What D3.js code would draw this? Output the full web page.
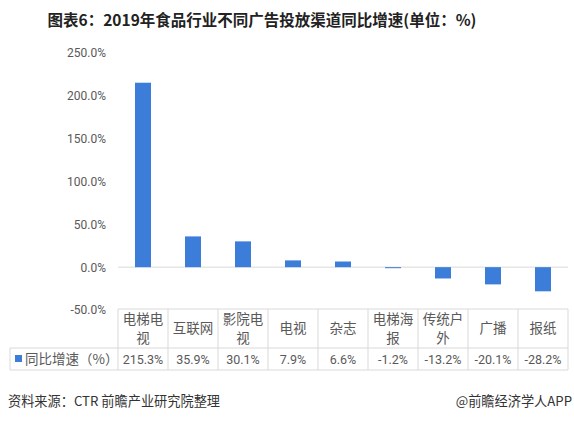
<!DOCTYPE html>
<html>
<head>
<meta charset="utf-8">
<script src="https://cdn.jsdelivr.net/npm/d3@7"></script>
<style>
  body { margin: 0; background: #fff; }
  svg { display: block; font-family: "Noto Sans CJK SC", "Microsoft YaHei", sans-serif; }
</style>
</head>
<body>
<svg id="chart"></svg>
<script>
const categories = ["电梯电视", "互联网", "影院电视", "电视", "杂志", "电梯海报", "传统户外", "广播", "报纸"];
const categoryLines = [["电梯电", "视"], ["互联网"], ["影院电", "视"], ["电视"], ["杂志"], ["电梯海", "报"], ["传统户", "外"], ["广播"], ["报纸"]];
const growth = [215.3, 35.9, 30.1, 7.9, 6.6, -1.2, -13.2, -20.1, -28.2];
const yTicks = [-50, 0, 50, 100, 150, 200, 250];
const seriesName = "同比增速（%）";

const svgWidth = 574, svgHeight = 422;
const plotLeft = 118, plotRight = 568;
const barColor = "#3b7dd8";
const textColor = "#595959";
const gridColor = "#d9d9d9";

// plain hyphen for negatives, like the source
const pct = d => d.toFixed(1) + "%";

const svg = d3.select("#chart")
  .attr("width", svgWidth)
  .attr("height", svgHeight);

// title
svg.append("text")
  .attr("x", 262)
  .attr("y", 26)
  .attr("text-anchor", "middle")
  .attr("font-size", 15.5)
  .attr("font-weight", "bold")
  .attr("fill", "#222")
  .text("图表6：2019年食品行业不同广告投放渠道同比增速(单位：%)");

// scales
const x = d3.scaleBand()
  .domain(categories)
  .range([plotLeft, plotRight]);

const y = d3.scaleLinear()
  .domain([-50, 250])
  .range([310, 53]);

// y axis labels, no lines
svg.append("g")
  .attr("transform", "translate(106,0)")
  .call(d3.axisLeft(y).tickValues(yTicks).tickSize(0).tickPadding(0).tickFormat(pct))
  .call(g => g.select(".domain").remove())
  .call(g => g.selectAll("text")
    .attr("fill", textColor)
    .attr("font-size", 12)
    .attr("font-family", "Roboto, 'Noto Sans', sans-serif"));

// zero line
svg.append("line")
  .attr("x1", plotLeft)
  .attr("x2", plotRight)
  .attr("y1", y(0))
  .attr("y2", y(0))
  .attr("stroke", gridColor)
  .attr("stroke-width", 1);

// bars
const barW = x.bandwidth() * 0.32;
svg.append("g")
  .selectAll("rect")
  .data(growth)
  .join("rect")
  .attr("x", (d, i) => x(categories[i]) + (x.bandwidth() - barW) / 2)
  .attr("y", d => y(Math.max(0, d)))
  .attr("width", barW)
  .attr("height", d => Math.abs(y(d) - y(0)))
  .attr("fill", barColor);

// data table
const headTop = 309, headBottom = 348, rowBottom = 370, tableLeft = 10;
const table = svg.append("g").attr("stroke", gridColor).attr("fill", "none");

table.append("line").attr("x1", plotLeft).attr("x2", plotRight).attr("y1", headTop).attr("y2", headTop);
table.append("line").attr("x1", tableLeft).attr("x2", plotRight).attr("y1", headBottom).attr("y2", headBottom);
table.append("line").attr("x1", tableLeft).attr("x2", plotRight).attr("y1", rowBottom).attr("y2", rowBottom);
table.append("line").attr("x1", tableLeft).attr("x2", tableLeft).attr("y1", headBottom).attr("y2", rowBottom);
table.selectAll(".vline")
  .data(categories.concat(["end"]))
  .join("line")
  .attr("x1", (d, i) => i < categories.length ? x(d) : plotRight)
  .attr("x2", (d, i) => i < categories.length ? x(d) : plotRight)
  .attr("y1", headTop)
  .attr("y2", rowBottom);

// category labels
const heads = svg.append("g")
  .selectAll("text")
  .data(categoryLines)
  .join("text")
  .attr("text-anchor", "middle")
  .attr("font-size", 13.5)
  .attr("fill", textColor)
  .attr("x", (d, i) => x(categories[i]) + x.bandwidth() / 2)
  .attr("y", d => d.length === 1 ? 333 : 324);

heads.selectAll("tspan")
  .data(d => d)
  .join("tspan")
  .attr("x", function () { return d3.select(this.parentNode).attr("x"); })
  .attr("dy", (d, i) => i === 0 ? 0 : 19)
  .text(d => d);

// values row
svg.append("g")
  .selectAll("text")
  .data(growth)
  .join("text")
  .attr("text-anchor", "middle")
  .attr("font-size", 12.5)
  .attr("fill", textColor)
  .attr("font-family", "Roboto, 'Noto Sans', sans-serif")
  .attr("x", (d, i) => x(categories[i]) + x.bandwidth() / 2)
  .attr("y", 364)
  .text(pct);

// legend key in the table
svg.append("rect")
  .attr("x", 15)
  .attr("y", 355)
  .attr("width", 7)
  .attr("height", 7)
  .attr("fill", barColor);

svg.append("text")
  .attr("x", 25)
  .attr("y", 364)
  .attr("font-size", 13.5)
  .attr("fill", textColor)
  .text(seriesName);

// footer
svg.append("text")
  .attr("x", 8)
  .attr("y", 406)
  .attr("font-size", 13.2)
  .attr("fill", "#333")
  .text("资料来源：CTR 前瞻产业研究院整理");

svg.append("text")
  .attr("x", 572)
  .attr("y", 406)
  .attr("text-anchor", "end")
  .attr("font-size", 13.2)
  .attr("fill", "#333")
  .text("@前瞻经济学人APP");
</script>
</body>
</html>
